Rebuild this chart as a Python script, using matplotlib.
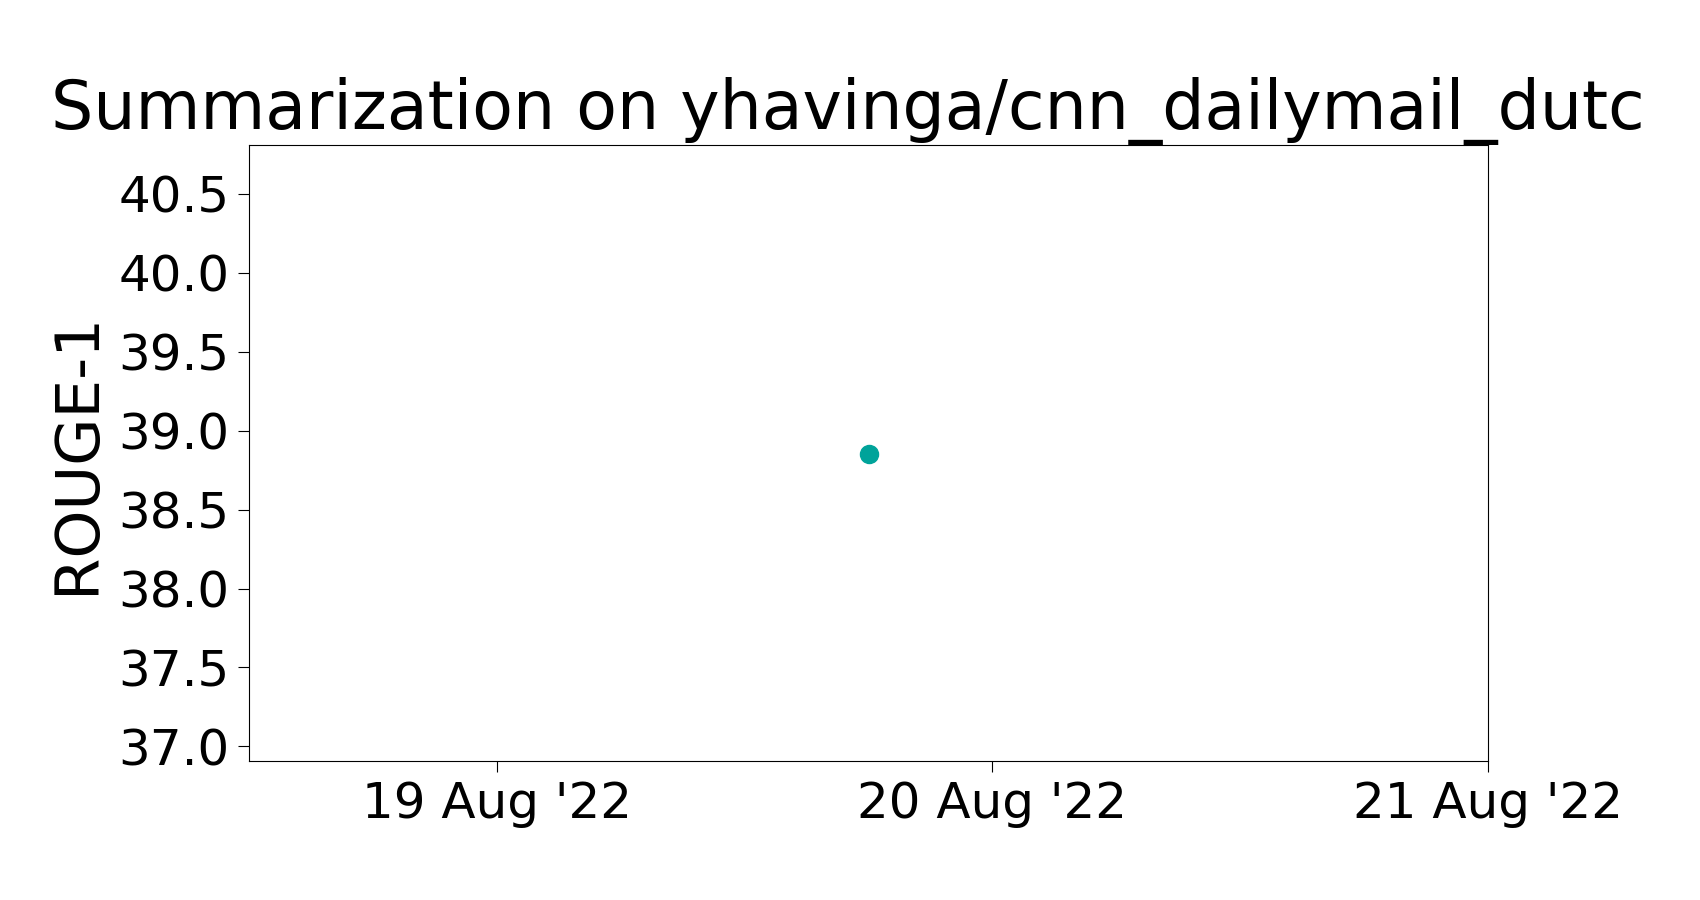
import matplotlib
matplotlib.use('Agg')
import matplotlib.pyplot as plt
import matplotlib.dates as mdates
from matplotlib.transforms import Bbox, TransformedBbox
import numpy as np
from datetime import datetime, timedelta

# data
dates = [datetime(2022, 8, 19, 18, 0)]
rouge1 = [38.853]
title = 'Summarization on yhavinga/cnn_dailymail_dutch'
ylabel = 'ROUGE-1'

fig = plt.figure(figsize=(17, 9), dpi=100)
ax = fig.add_axes([249/1700, 1-761/900, (1488-249)/1700, (761-145)/900])

ax.plot(dates, rouge1, 'o', color='#00a39a', markersize=13)

ax.set_xlim(dates[0] - timedelta(hours=30), dates[0] + timedelta(hours=30))
ax.set_ylim(rouge1[0] - 1.945, rouge1[0] + 1.955)
ax.set_yticks(np.arange(37.0, 40.6, 0.5))
ax.xaxis.set_major_locator(mdates.DayLocator())
ax.xaxis.set_major_formatter(mdates.DateFormatter("%d %b '%y"))

ax.tick_params(labelsize=36, length=8, pad=6)
ax.set_ylabel(ylabel, fontsize=44, labelpad=8)
t = ax.set_title(title, fontsize=48)
# the reference image is cut just after "dutc"
t.set_clip_box(TransformedBbox(Bbox([[0, 0], [1650/1700, 1]]), fig.transFigure))
t.set_clip_on(True)

plt.savefig('out.png', dpi=100)
plt.close()
